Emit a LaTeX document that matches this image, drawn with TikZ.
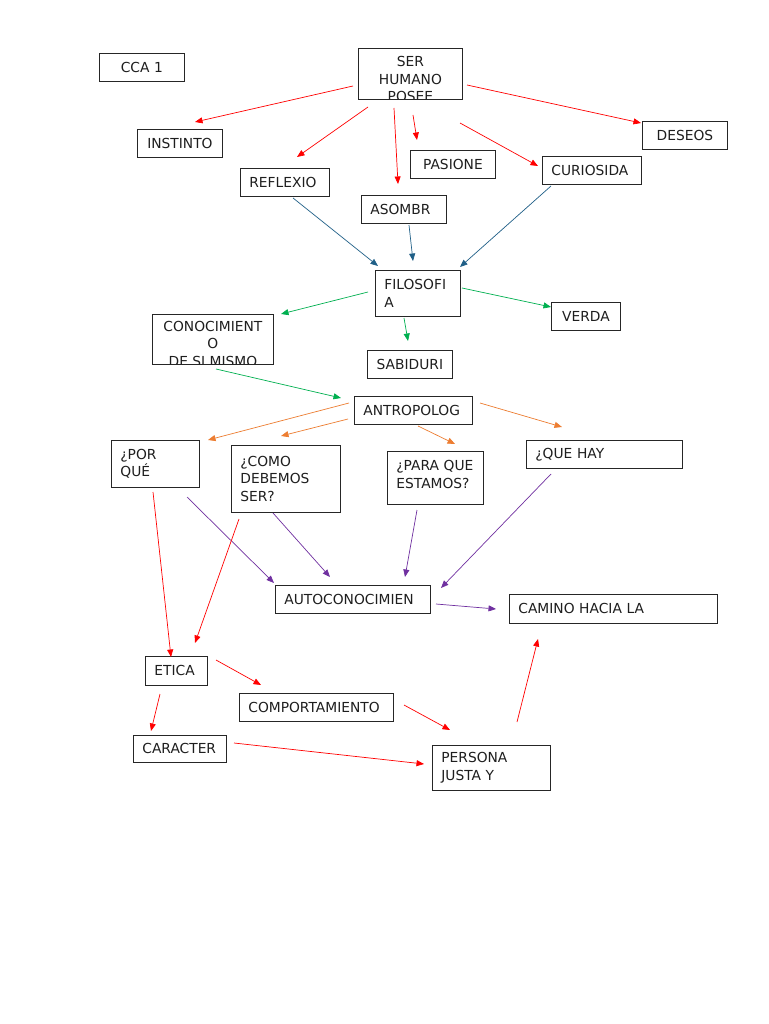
\documentclass[tikz,border=0pt]{standalone}
\usepackage{fontspec}
\setmainfont{DejaVu Sans}
\usetikzlibrary{arrows.meta}
\definecolor{cred}{RGB}{255,0,0}
\definecolor{cblue}{RGB}{31,95,135}
\definecolor{cgreen}{RGB}{0,176,80}
\definecolor{corange}{RGB}{237,125,49}
\definecolor{cpurple}{RGB}{112,48,160}
\definecolor{ctext}{RGB}{30,30,30}
\tikzset{
  box/.style={draw=black!85, line width=0.8pt, anchor=north west, inner xsep=9pt, inner ysep=0pt,
    font=\fontsize{13.8}{17.5}\selectfont, text=ctext},
  lbox/.style 2 args={box, text width=#1pt-18pt, minimum height=#2pt, align=left},
  cbox/.style 2 args={box, text width=#1pt-18pt, minimum height=#2pt, align=center},
  ebox/.style 2 args={box, minimum width=#1pt, minimum height=#2pt},
  arr/.style={line width=0.7pt, -{Triangle[length=7.5pt,width=6pt]}},
  rarr/.style={arr, cred},
  barr/.style={arr, cblue},
  garr/.style={arr, cgreen},
  oarr/.style={arr, corange},
  parr/.style={arr, cpurple},
  cliptext/.style={anchor=north, align=center, inner sep=0pt, font=\fontsize{13.8}{17.5}\selectfont, text=ctext}
}
\begin{document}
\begin{tikzpicture}[x=1pt,y=-1pt]
\useasboundingbox (0,0) rectangle (768,1024);
\fill[white] (0,0) rectangle (768,1024);

% boxes
\node[cbox={85}{28}] (cca) at (99,53) {CCA 1};
\node[ebox={104}{51}, path picture={\node[cliptext] at ([yshift=-5pt]path picture bounding box.north) {SER\\HUMANO\\POSEE};}] (ser) at (358,48) {};
\node[cbox={85}{28}] (instinto) at (137,129) {INSTINTO};
\node[lbox={89}{28}] (reflexio) at (240,168) {REFLEXIO};
\node[cbox={85}{28}] (pasione) at (410,150) {PASIONE};
\node[lbox={85}{28}] (asombr) at (361,195) {ASOMBR};
\node[lbox={99}{28}] (curiosida) at (542,156) {CURIOSIDA};
\node[cbox={85}{28}] (deseos) at (642,121) {DESEOS};
\node[lbox={85}{46}] (filosofia) at (375,270) {FILOSOFI\\A};
\node[ebox={121}{50}, path picture={\node[cliptext] at ([yshift=-4pt]path picture bounding box.north) {CONOCIMIENT\\O\\DE SI MISMO};}] (conoc) at (152,314) {};
\node[cbox={85}{28}] (sabiduri) at (367,350) {SABIDURI};
\node[cbox={69}{28}] (verda) at (551,302) {VERDA};
\node[lbox={118}{28}] (antropolog) at (354,396) {ANTROPOLOG};
\node[lbox={88}{47}] (porque) at (111,440) {¿POR\\QUÉ};
\node[lbox={109}{67}] (como) at (231,445) {¿COMO\\DEBEMOS\\SER?};
\node[lbox={96}{53}, text depth=25pt] (para) at (387,451) {¿PARA QUE\\ESTAMOS?};
\node[lbox={156}{28}] (quehay) at (526,440) {¿QUE HAY};
\node[lbox={155}{28}] (auto) at (275,585) {AUTOCONOCIMIEN};
\node[lbox={208}{29}] (camino) at (509,594) {CAMINO HACIA LA};
\node[lbox={62}{29}] (etica) at (145,656) {ETICA};
\node[lbox={154}{28}] (comport) at (239,693) {COMPORTAMIENTO};
\node[lbox={93}{27}] (caracter) at (133,735) {CARACTER};
\node[lbox={118}{45}] (persona) at (432,745) {PERSONA\\JUSTA Y};

% red arrows from SER HUMANO
\draw[rarr] ([shift={(-5,38)}]ser.north west) -- ([shift={(58,-7)}]instinto.north west);
\draw[rarr] ([shift={(10,59)}]ser.north west) -- ([shift={(57,-11)}]reflexio.north west);
\draw[rarr] ([shift={(36,60)}]ser.north west) -- ([shift={(37,-11)}]asombr.north west);
\draw[rarr] ([shift={(55,67)}]ser.north west) -- ([shift={(7,-10)}]pasione.north west);
\draw[rarr] ([shift={(102,75)}]ser.north west) -- ([shift={(-4,10)}]curiosida.north west);
\draw[rarr] ([shift={(109,37)}]ser.north west) -- ([shift={(-1,2)}]deseos.north west);

% blue arrows to FILOSOFIA
\draw[barr] ([shift={(53,30)}]reflexio.north west) -- ([shift={(3,-4)}]filosofia.north west);
\draw[barr] ([shift={(48,30)}]asombr.north west) -- ([shift={(38,-9)}]filosofia.north west);
\draw[barr] ([shift={(9,30)}]curiosida.north west) -- ([shift={(85,-3)}]filosofia.north west);

% green arrows
\draw[garr] ([shift={(-7,22)}]filosofia.north west) -- ([shift={(129,0)}]conoc.north west);
\draw[garr] ([shift={(29,48)}]filosofia.north west) -- ([shift={(41,-9)}]sabiduri.north west);
\draw[garr] ([shift={(87,18)}]filosofia.north west) -- ([shift={(0,5)}]verda.north west);
\draw[garr] ([shift={(64,55)}]conoc.north west) -- ([shift={(-13,2)}]antropolog.north west);

% orange arrows
\draw[oarr] ([shift={(-5,7)}]antropolog.north west) -- ([shift={(97,0)}]porque.north west);
\draw[oarr] ([shift={(-6,23)}]antropolog.north west) -- ([shift={(50,-9)}]como.north west);
\draw[oarr] ([shift={(64,30)}]antropolog.north west) -- ([shift={(68,-7)}]para.north west);
\draw[oarr] ([shift={(126,7)}]antropolog.north west) -- ([shift={(36,-13)}]quehay.north west);

% purple arrows
\draw[parr] ([shift={(76,57)}]porque.north west) -- ([shift={(-1,-2)}]auto.north west);
\draw[parr] ([shift={(42,68)}]como.north west) -- ([shift={(55,-8)}]auto.north west);
\draw[parr] ([shift={(30,59)}]para.north west) -- ([shift={(130,-8)}]auto.north west);
\draw[parr] ([shift={(25,34)}]quehay.north west) -- ([shift={(166,3)}]auto.north west);
\draw[parr] ([shift={(161,19)}]auto.north west) -- ([shift={(-13,15)}]camino.north west);

% red arrows, bottom
\draw[rarr] ([shift={(42,52)}]porque.north west) -- ([shift={(26,1)}]etica.north west);
\draw[rarr] ([shift={(8,74)}]como.north west) -- ([shift={(50,-13)}]etica.north west);
\draw[rarr] ([shift={(71,4)}]etica.north west) -- ([shift={(22,-8)}]comport.north west);
\draw[rarr] ([shift={(15,38)}]etica.north west) -- ([shift={(18,-4)}]caracter.north west);
\draw[rarr] ([shift={(165,12)}]comport.north west) -- ([shift={(18,-15)}]persona.north west);
\draw[rarr] ([shift={(101,8)}]caracter.north west) -- ([shift={(-8,19)}]persona.north west);
\draw[rarr] ([shift={(85,-23)}]persona.north west) -- ([shift={(29,45)}]camino.north west);
\end{tikzpicture}
\end{document}
